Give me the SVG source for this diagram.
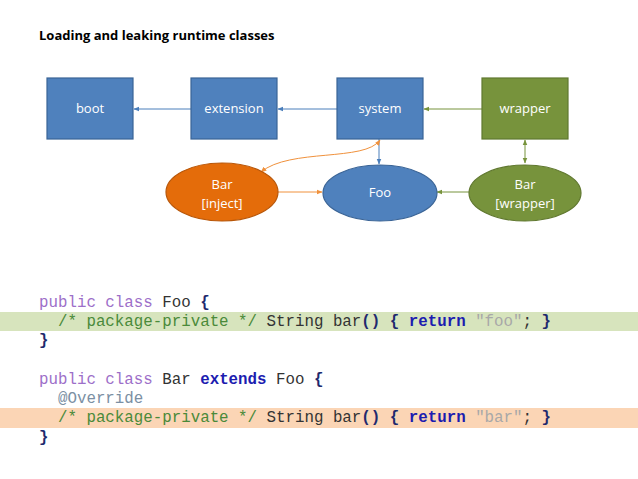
<svg xmlns="http://www.w3.org/2000/svg" width="638" height="479" viewBox="0 0 638 479">
<style>
.title{font-family:"Open Sans","Liberation Sans",sans-serif;font-weight:bold;font-size:13px;fill:#000}
.lbl{font-family:"Open Sans","Liberation Sans",sans-serif;font-size:13px;fill:#fff;text-anchor:middle}
.blue{fill:#4f81bd;stroke:#3a6496;stroke-width:1.2}
.green{fill:#77933c;stroke:#60782f;stroke-width:1.2}
.orange{fill:#e46c0a;stroke:#b85608;stroke-width:1.2}
.cb{stroke:#4a7ebb;stroke-width:1;fill:none}
.cg{stroke:#77933c;stroke-width:1;fill:none}
.co{stroke:#f0913c;stroke-width:1;fill:none}
.code{font-family:"Liberation Mono","Courier New",monospace;font-size:15.8px;fill:#333;white-space:pre}
.kw{fill:#9d6fc9}
.cm{fill:#4a8a3a}
.br{fill:#1f2a6e;font-weight:bold}
.rt{fill:#1c1cb0;font-weight:bold}
.st{fill:#a8a8a8}
.an{fill:#7b8fa3}
</style>
<defs>
<marker id="ab" viewBox="0 0 10 10" refX="9" refY="5" markerWidth="6" markerHeight="6" orient="auto-start-reverse"><path d="M0,1 L10,5 L0,9 z" fill="#4a7ebb"/></marker>
<marker id="ag" viewBox="0 0 10 10" refX="9" refY="5" markerWidth="6" markerHeight="6" orient="auto-start-reverse"><path d="M0,1 L10,5 L0,9 z" fill="#77933c"/></marker>
<marker id="ao" viewBox="0 0 10 10" refX="9" refY="5" markerWidth="6" markerHeight="6" orient="auto-start-reverse"><path d="M0,1 L10,5 L0,9 z" fill="#f0913c"/></marker>
</defs>
<rect width="638" height="479" fill="#fff"/>
<text class="title" x="39" y="40">Loading and leaking runtime classes</text>

<g id="connectors">
<line class="cb" x1="191" y1="109" x2="134" y2="109" marker-end="url(#ab)"/>
<line class="cb" x1="337" y1="109" x2="278" y2="109" marker-end="url(#ab)"/>
<line class="cg" x1="482" y1="109" x2="424" y2="109" marker-end="url(#ag)"/>
<line class="cb" x1="379" y1="139" x2="379" y2="164" marker-end="url(#ab)"/>
<line class="co" x1="278" y1="192" x2="322" y2="192" marker-end="url(#ao)"/>
<line class="cg" x1="469" y1="192" x2="437" y2="192" marker-end="url(#ag)"/>
<line class="cg" x1="525" y1="140" x2="525" y2="163" marker-start="url(#ag)" marker-end="url(#ag)"/>
<path class="co" d="M380,140 C365,162 290,148 261,172" marker-start="url(#ao)" marker-end="url(#ao)"/>
</g>

<g id="boot"><rect class="blue" x="47" y="78" width="86" height="61"/><text class="lbl" x="90" y="113">boot</text></g>
<g id="extension"><rect class="blue" x="191" y="78" width="86" height="61"/><text class="lbl" x="234" y="113">extension</text></g>
<g id="system"><rect class="blue" x="337" y="78" width="86" height="61"/><text class="lbl" x="380" y="113">system</text></g>
<g id="wrapper"><rect class="green" x="482" y="78" width="86" height="61"/><text class="lbl" x="525" y="113">wrapper</text></g>
<g id="bar-inject"><ellipse class="orange" cx="222" cy="192" rx="56" ry="29"/><text class="lbl" x="222" y="189">Bar</text><text class="lbl" x="222" y="208">[inject]</text></g>
<g id="foo"><ellipse class="blue" cx="380" cy="193" rx="57" ry="28"/><text class="lbl" x="380" y="197">Foo</text></g>
<g id="bar-wrapper"><ellipse class="green" cx="525" cy="193" rx="56" ry="28"/><text class="lbl" x="525" y="189">Bar</text><text class="lbl" x="525" y="208">[wrapper]</text></g>

<g id="code">
<rect x="0" y="312" width="638" height="19" fill="#d7e4bd"/>
<rect x="0" y="408" width="638" height="20" fill="#fbd5b5"/>
<text class="code" x="39" y="307" xml:space="preserve"><tspan class="kw">public class</tspan> Foo <tspan class="br">{</tspan></text>
<text class="code" x="39" y="326" xml:space="preserve">  <tspan class="cm">/* package-private */</tspan> String bar<tspan class="br">()</tspan> <tspan class="br">{</tspan> <tspan class="rt">return</tspan> <tspan class="st">"foo"</tspan>; <tspan class="br">}</tspan></text>
<text class="code" x="39" y="345" xml:space="preserve"><tspan class="br">}</tspan></text>
<text class="code" x="39" y="384" xml:space="preserve"><tspan class="kw">public class</tspan> Bar <tspan class="rt">extends</tspan> Foo <tspan class="br">{</tspan></text>
<text class="code" x="39" y="403" xml:space="preserve">  <tspan class="an">@Override</tspan></text>
<text class="code" x="39" y="422" xml:space="preserve">  <tspan class="cm">/* package-private */</tspan> String bar<tspan class="br">()</tspan> <tspan class="br">{</tspan> <tspan class="rt">return</tspan> <tspan class="st">"bar"</tspan>; <tspan class="br">}</tspan></text>
<text class="code" x="39" y="442" xml:space="preserve"><tspan class="br">}</tspan></text>
</g>
</svg>
